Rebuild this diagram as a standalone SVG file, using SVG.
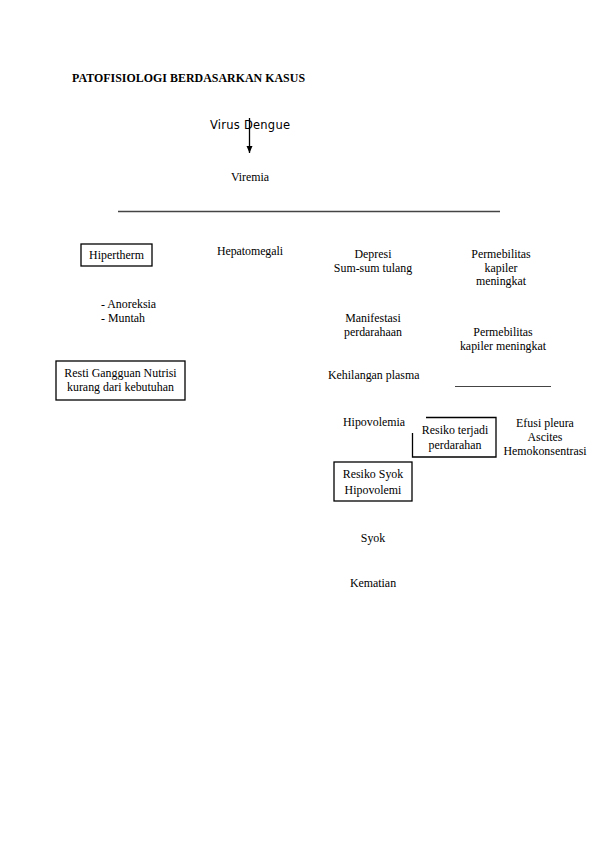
<svg xmlns="http://www.w3.org/2000/svg" width="595" height="842" viewBox="0 0 595 842">
<defs>
<style>
.t{font-family:"Liberation Serif","Times New Roman",serif;font-size:11.9px;fill:#000}
.c{text-anchor:middle}
.b{fill:#fff;stroke:#000;stroke-width:1.3}
.ln{stroke:#000;fill:none}
</style>
<marker id="ah" markerWidth="8" markerHeight="8" refX="7" refY="4" orient="auto" markerUnits="userSpaceOnUse"><path d="M0,1 L7,4 L0,7 Z" fill="#000"/></marker>
</defs>
<rect width="595" height="842" fill="#fff"/>
<text class="t" x="72" y="82" font-weight="bold" font-size="10.5" textLength="233" lengthAdjust="spacing">PATOFISIOLOGI BERDASARKAN KASUS</text>
<g id="connectors">
<line x1="249.5" y1="118" x2="249.5" y2="153" class="ln" stroke-width="1.3" marker-end="url(#ah)"/>
<line x1="118" y1="211.5" x2="500" y2="211.5" stroke="#444" stroke-width="1.4"/>
<line x1="455" y1="386.5" x2="551" y2="386.5" stroke="#444" stroke-width="1.2"/>
</g>
<g id="virus"><text x="210" y="129" font-family="DejaVu Sans,sans-serif" font-size="11.5" textLength="80" lengthAdjust="spacing">Virus Dengue</text></g>
<g id="viremia"><text class="t c" x="250" y="181">Viremia</text></g>
<g id="hipertherm"><rect class="b" x="81" y="244" width="71" height="22"/><text class="t c" x="116.5" y="259">Hipertherm</text></g>
<g id="hepatomegali"><text class="t" x="217" y="255" textLength="66" lengthAdjust="spacing">Hepatomegali</text></g>
<g id="depresi"><text class="t c" x="373" y="258">Depresi</text><text class="t c" x="373" y="272">Sum-sum tulang</text></g>
<g id="permeabilitas1"><text class="t c" x="501" y="258">Permebilitas</text><text class="t c" x="501" y="272">kapiler</text><text class="t c" x="501" y="285">meningkat</text></g>
<g id="anoreksia"><text class="t" x="101" y="308">- Anoreksia</text><text class="t" x="101" y="322">- Muntah</text></g>
<g id="resti"><rect class="b" x="56" y="361" width="129" height="39"/><text class="t c" x="120.5" y="377">Resti Gangguan Nutrisi</text><text class="t c" x="120.5" y="391">kurang dari kebutuhan</text></g>
<g id="manifestasi"><text class="t c" x="373" y="322">Manifestasi</text><text class="t c" x="373" y="336">perdarahaan</text></g>
<g id="permeabilitas2"><text class="t c" x="503" y="336">Permebilitas</text><text class="t c" x="503" y="350">kapiler meningkat</text></g>
<g id="kehilangan"><text class="t" x="328" y="379">Kehilangan plasma</text></g>
<g id="hipovolemia"><text class="t" x="343" y="426">Hipovolemia</text></g>
<g id="resiko-perdarahan"><path class="ln" stroke-width="1.3" d="M426,417.5 H496 V457 H412.5 V433"/><text class="t c" x="455" y="434">Resiko terjadi</text><text class="t c" x="455" y="449">perdarahan</text></g>
<g id="efusi"><text class="t c" x="545" y="427">Efusi pleura</text><text class="t c" x="545" y="441">Ascites</text><text class="t c" x="545" y="455">Hemokonsentrasi</text></g>
<g id="resiko-syok"><rect class="b" x="334" y="462" width="78" height="39"/><text class="t c" x="373" y="478">Resiko Syok</text><text class="t c" x="373" y="494">Hipovolemi</text></g>
<g id="syok"><text class="t c" x="373" y="542">Syok</text></g>
<g id="kematian"><text class="t c" x="373" y="587">Kematian</text></g>
</svg>
